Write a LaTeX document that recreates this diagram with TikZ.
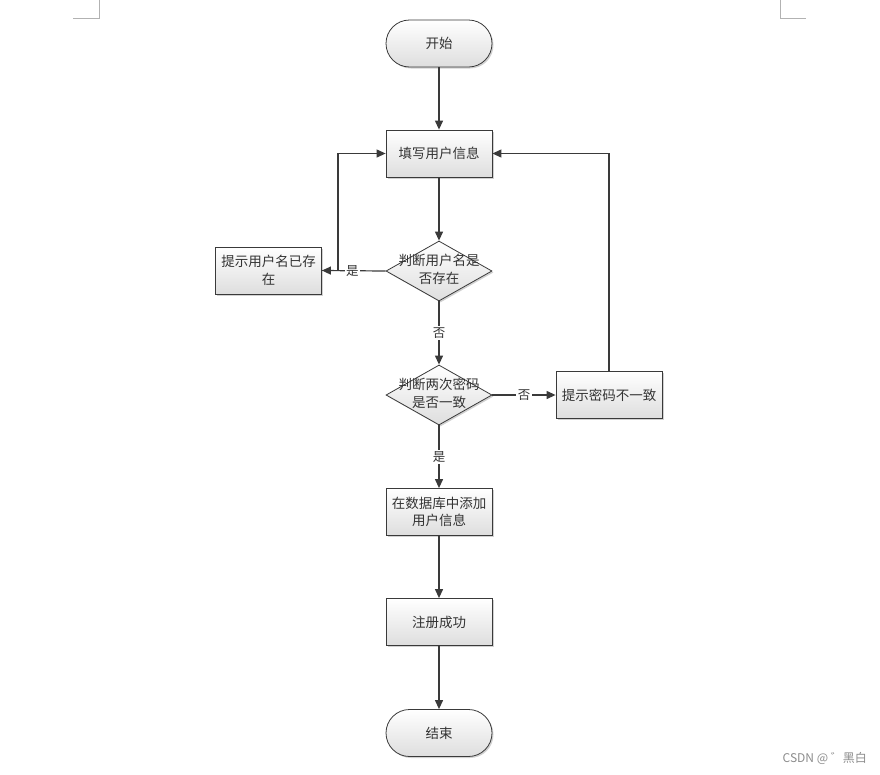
\documentclass[tikz,border=0pt]{standalone}
\usepackage{fontspec}
\setmainfont{Noto Sans CJK SC}
\usetikzlibrary{shadows,arrows.meta,shapes.geometric}
\definecolor{ln}{HTML}{3A3A3A}
\definecolor{tx}{HTML}{333333}
\begin{document}
\begin{tikzpicture}[x=1pt,y=-1pt,
  shad/.style={drop shadow={shadow xshift=1.5pt, shadow yshift=-1.5pt, fill=black!30, opacity=0.6}},
  box/.style={draw=ln, line width=0.8pt, top color=white, bottom color=black!13, minimum width=106pt, minimum height=47pt, inner sep=2pt, align=center, font=\fontsize{13.5}{17.5}\selectfont, text=tx, shad},
  term/.style={box, rounded corners=23.5pt},
  dia/.style={diamond, draw=ln, line width=0.8pt, top color=white, bottom color=black!13, minimum width=106pt, minimum height=60pt, inner sep=0pt, shad},
  dtext/.style={align=center, font=\fontsize{13.5}{17.5}\selectfont, text=tx, inner sep=0pt},
  conn/.style={draw=ln, line width=1.2pt, -{Triangle[length=9pt,width=8pt]}},
  lbl/.style={fill=white, inner sep=1.5pt, font=\fontsize{12.5}{14}\selectfont, text=tx},
  corner/.style={draw=black!30, line width=0.8pt}
]
\useasboundingbox (0,0) rectangle (880,774);
% corner marks
\draw[corner] (73,18) -- (99,18) -- (99,0);
\draw[corner] (780,0) -- (780,18) -- (806,18);

\node[term] (start) at (439,43.5) {开始};
\node[box] (fill) at (439,153.5) {填写用户信息};
\node[dia] (d1) at (439,271) {};
\node[dtext] (d1t) at (439,269.5) {判断用户名是\\否存在};
\node[box] (w1) at (268.5,270.5) {提示用户名已存\\在};
\node[dia] (d2) at (439,395) {};
\node[dtext] (d2t) at (439,393.5) {判断两次密码\\是否一致};
\node[box] (w2) at (609,395) {提示密码不一致};
\node[box] (add) at (439,512) {在数据库中添加\\用户信息};
\node[box] (ok) at (439,622) {注册成功};
\node[term] (end) at (439,733) {结束};

\draw[conn] (start) -- (fill);
\draw[conn] (fill) -- (d1);
\draw[conn] (d1.west) -- node[lbl, pos=0.52] {是} (w1.east);
\draw[conn] (w1.east) -- ++(16,0) |- (fill.west);
\draw[conn] (d1.south) -- node[lbl] {否} (d2.north);
\draw[conn] (d2.east) -- node[lbl] {否} (w2.west);
\draw[conn] (w2.north) |- (fill.east);
\draw[conn] (d2.south) -- node[lbl] {是} (add.north);
\draw[conn] (add) -- (ok);
\draw[conn] (ok) -- (end);

\node[text=black!45, font=\fontsize{12}{14}\selectfont, anchor=east, inner sep=0pt] (wm) at (867,758) {CSDN @ ゛黑白};
\end{tikzpicture}
\end{document}
